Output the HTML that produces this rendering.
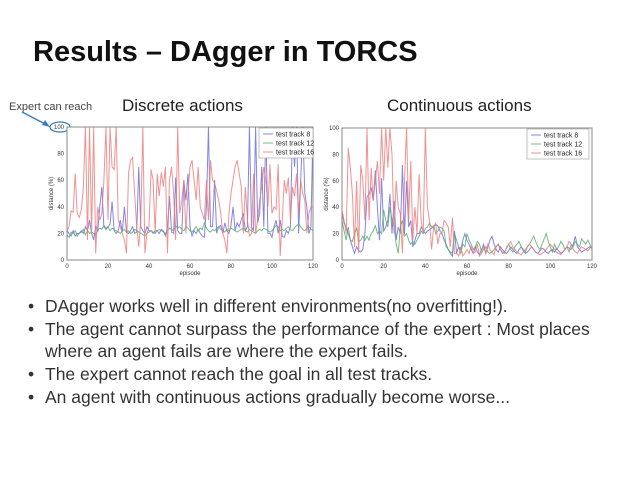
<!DOCTYPE html>
<html><head><meta charset="utf-8"><style>
body{margin:0;width:638px;height:478px;background:#fff;font-family:"Liberation Sans",sans-serif;overflow:hidden;position:relative}
.t{position:absolute;white-space:nowrap}
#title{left:33px;top:36px;font-size:29px;font-weight:bold;color:#111}
.sub{font-size:17px;color:#222;top:96px}
ul{position:absolute;left:28px;top:295px;margin:0;padding:0;list-style:none;font-size:17.5px;color:#333;line-height:22.7px}
li{position:relative;padding-left:17px;white-space:nowrap}
li::before{content:"•";position:absolute;left:0}
</style></head><body>
<div class="t" id="title">Results – DAgger in TORCS</div>
<div class="t" style="left:9px;top:101px;font-size:11px;color:#444">Expert can reach</div>
<div class="t sub" style="left:122px">Discrete actions</div>
<div class="t sub" style="left:387px">Continuous actions</div>
<svg width="638" height="478" style="position:absolute;left:0;top:0" id="svg">
<line x1="22" y1="112" x2="47" y2="125" stroke="#3a7cc0" stroke-width="1.5"/>
<polygon points="50,127 42,125 45,120" fill="#3a7cc0"/>
<ellipse cx="60" cy="127" rx="10" ry="5" fill="none" stroke="#3a7cc0" stroke-width="1.3"/>
</svg>
<ul>
<li>DAgger works well in different environments(no overfitting!).</li>
<li>The agent cannot surpass the performance of the expert : Most places<br>where an agent fails are where the expert fails.</li>
<li>The expert cannot reach the goal in all test tracks.</li>
<li>An agent with continuous actions gradually become worse...</li>
</ul>
<script>
const xTicks=[0,20,40,60,80,100,120];
const yTicks=[0,20,40,60,80,100];
const seriesNames=["test track 8","test track 12","test track 16"];
const discTrack8=[22,20,18,22,18,20,20,22,20,25,22,30,20,15,25,22,40,55,25,23,25,27,44,22,20,22,30,21,40,21,20,22,25,20,21,70,25,22,20,25,22,22,20,22,22,20,23,22,18,25,48,21,20,62,22,20,20,60,45,65,25,18,22,20,23,20,18,17,40,100,25,25,60,20,25,26,20,28,22,20,26,40,22,28,25,30,35,22,25,100,25,22,100,28,35,70,25,100,20,20,17,25,30,20,30,18,17,22,20,25,100,70,100,20,60,100,50,40,20,25,100];
const discTrack12=[19,17,21,20,22,18,20,21,23,19,22,20,21,20,19,22,24,23,26,24,25,22,24,23,22,21,20,22,23,21,22,20,21,23,22,21,20,19,18,20,21,22,21,20,22,23,22,21,20,22,24,23,22,26,24,25,23,22,25,24,22,21,23,25,22,24,23,28,24,22,21,23,22,24,25,23,22,21,23,22,24,23,22,21,22,23,24,22,21,23,22,21,20,22,23,22,24,23,22,21,22,24,26,25,22,23,22,24,25,23,22,24,26,27,25,23,22,24,25,23,22];
const discTrack16=[22,25,37,36,65,35,32,38,55,100,15,100,20,100,5,40,30,35,60,100,30,100,70,68,100,30,25,20,15,5,65,75,77,50,25,10,30,100,5,20,25,68,60,20,65,48,66,55,70,5,60,70,50,15,100,35,45,60,20,50,70,75,60,45,70,40,35,30,60,30,75,60,58,52,45,35,20,15,5,35,50,60,70,75,65,55,20,55,30,18,20,65,20,30,45,55,70,60,40,72,35,40,38,72,3,30,60,50,62,30,55,48,65,35,60,50,45,20,35,40,40];
const contTrack8=[35,28,25,20,15,10,5,10,7,6,8,20,48,50,55,45,68,40,15,62,22,25,30,50,20,45,15,25,20,72,20,60,25,30,10,15,20,20,25,22,20,22,23,24,25,27,26,22,20,15,12,8,5,3,22,5,10,8,15,20,15,12,8,5,10,6,4,8,12,5,10,15,18,12,8,6,10,8,6,5,7,10,8,6,5,8,10,7,5,6,8,10,8,6,5,7,9,8,6,5,7,8,6,9,7,5,6,8,10,9,8,12,18,10,8,6,7,8,9,10,9];
const contTrack12=[30,22,15,25,15,14,20,24,14,15,18,15,18,15,20,22,26,20,22,20,38,30,25,40,30,25,12,5,25,30,18,20,15,12,14,12,15,18,22,20,24,25,28,25,26,20,22,25,24,22,10,8,6,5,20,15,10,5,12,10,20,15,12,8,10,14,12,6,8,10,6,5,6,8,10,12,8,5,6,9,12,8,6,10,12,14,10,8,6,10,12,15,18,14,10,8,12,16,20,14,10,6,12,8,10,14,12,8,10,6,12,10,14,12,10,16,14,12,15,12,8];
const contTrack16=[38,30,20,85,70,50,10,60,5,72,60,30,100,30,70,45,60,75,50,100,60,100,70,100,80,20,60,40,35,5,60,100,30,75,15,40,20,65,30,20,100,40,30,8,25,28,12,20,20,30,28,25,10,32,5,5,3,10,3,5,8,5,10,5,6,12,3,5,10,5,12,8,6,4,10,12,8,6,5,10,12,14,10,8,6,5,4,6,8,10,12,10,8,6,5,4,5,6,8,10,12,10,8,6,5,4,6,8,10,14,12,8,6,5,8,10,9,8,7,9,10];
const colors=["#6666dd","#55aa66","#ee7777"];
const svg=document.getElementById('svg');
const NS='http://www.w3.org/2000/svg';
function mk(tag,attrs){const e=document.createElementNS(NS,tag);for(const k in attrs)e.setAttribute(k,attrs[k]);svg.appendChild(e);return e;}
function chart(x0,x1,y0,y1,series,prefix,legendX,legendY,legendW){
  const sx=v=>x0+(v/120)*(x1-x0), sy=v=>y0-(v/100)*(y0-y1);
  const frame=mk('rect',{x:x0,y:y1,width:x1-x0,height:y0-y1,fill:'#fff',stroke:'#888','stroke-width':1});
  
  
  xTicks.forEach(v=>{const t=mk('text',{x:sx(v),y:y0+8,'font-size':6,'text-anchor':'middle',fill:'#333','font-family':'Liberation Sans'});t.textContent=v;
    
    });
  yTicks.forEach(v=>{const t=mk('text',{x:x0-3,y:sy(v)+2,'font-size':6,'text-anchor':'end',fill:'#333','font-family':'Liberation Sans'});t.textContent=v;
    
    });
  const xl=mk('text',{x:(x0+x1)/2,y:y0+15,'font-size':6,'text-anchor':'middle',fill:'#333','font-family':'Liberation Sans'});xl.textContent='episode';
  
  
  const yl=mk('text',{x:0,y:0,'font-size':6,'text-anchor':'middle',fill:'#333','font-family':'Liberation Sans',transform:`translate(${x0-14},${(y0+y1)/2}) rotate(-90)`});yl.textContent='distance (%)';
  
  
  series.forEach((d,i)=>{const p=mk('polyline',{points:d.map((v,j)=>sx(j)+','+sy(v)).join(' '),fill:'none',stroke:colors[i],'stroke-width':1,'stroke-opacity':0.8});
    
    });
  const lg=mk('rect',{x:legendX,y:legendY,width:legendW,height:30,fill:'#fff',stroke:'#999','stroke-width':0.6});
  
  
  seriesNames.forEach((n,i)=>{const yy=legendY+6+i*9;
    const l=mk('line',{x1:legendX+4,x2:legendX+14,y1:yy,y2:yy,stroke:colors[i],'stroke-width':0.8});
    
    
    const t=mk('text',{x:legendX+17,y:yy+2.5,'font-size':7,fill:'#222','font-family':'Liberation Sans'});t.textContent=n;
    
    });
}
chart(67,313,260,127,[discTrack8,discTrack12,discTrack16],'discrete',259,128,54);
chart(342,592,260,128,[contTrack8,contTrack12,contTrack16],'continuous',527,129,62);
</script>
</body></html>
